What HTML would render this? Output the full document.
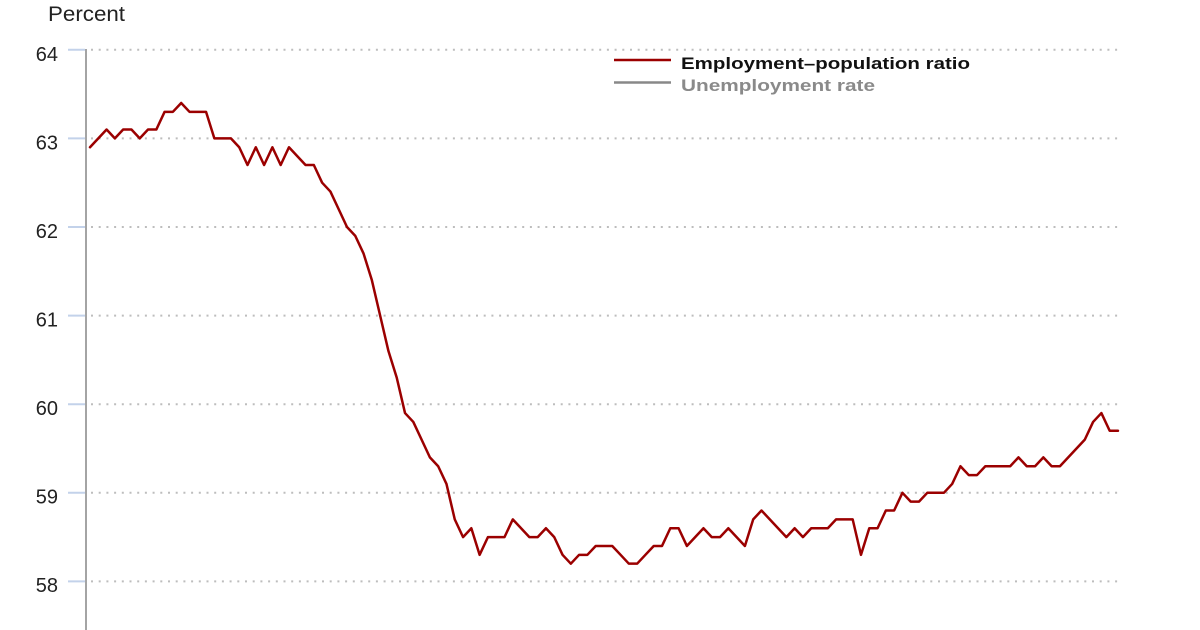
<!DOCTYPE html>
<html>
<head>
<meta charset="utf-8">
<style>
  html, body { margin: 0; padding: 0; background: #ffffff; }
  body { width: 1200px; height: 630px; overflow: hidden; }
  svg { display: block; }
  text { font-family: "Liberation Sans", sans-serif; }
</style>
</head>
<body>
<svg width="1200" height="630" viewBox="0 0 1200 630" xmlns="http://www.w3.org/2000/svg">
  <rect x="0" y="0" width="1200" height="630" fill="#ffffff"/>

  <!-- gridlines (dotted) -->
  <g stroke="#bdbdbd" stroke-width="2" stroke-dasharray="2 5.7" fill="none">
    <line x1="91" y1="49.8" x2="1120" y2="49.8"/>
    <line x1="91" y1="138.4" x2="1120" y2="138.4"/>
    <line x1="91" y1="227" x2="1120" y2="227"/>
    <line x1="91" y1="315.6" x2="1120" y2="315.6"/>
    <line x1="91" y1="404.2" x2="1120" y2="404.2"/>
    <line x1="91" y1="492.8" x2="1120" y2="492.8"/>
    <line x1="91" y1="581.4" x2="1120" y2="581.4"/>
  </g>

  <!-- y tick marks -->
  <g stroke="#c3d2ea" stroke-width="2">
    <line x1="68" y1="49.8" x2="85" y2="49.8"/>
    <line x1="68" y1="138.4" x2="85" y2="138.4"/>
    <line x1="68" y1="227" x2="85" y2="227"/>
    <line x1="68" y1="315.6" x2="85" y2="315.6"/>
    <line x1="68" y1="404.2" x2="85" y2="404.2"/>
    <line x1="68" y1="492.8" x2="85" y2="492.8"/>
    <line x1="68" y1="581.4" x2="85" y2="581.4"/>
  </g>

  <!-- y axis line -->
  <line x1="86" y1="49" x2="86" y2="630" stroke="#858585" stroke-width="1.5"/>

  <!-- y tick labels -->
  <g font-size="20" fill="#222222" text-anchor="end">
    <text x="58" y="61">64</text>
    <text x="58" y="149.5">63</text>
    <text x="58" y="238">62</text>
    <text x="58" y="326.5">61</text>
    <text x="58" y="415">60</text>
    <text x="58" y="503.5">59</text>
    <text x="58" y="592">58</text>
  </g>

  <!-- axis title -->
  <text x="48" y="21" font-size="21" fill="#222222" textLength="77" lengthAdjust="spacingAndGlyphs">Percent</text>

  <!-- legend -->
  <line x1="614" y1="60" x2="671" y2="60" stroke="#9b0000" stroke-width="2.6"/>
  <line x1="614" y1="82.5" x2="671" y2="82.5" stroke="#888888" stroke-width="2.6"/>
  <text x="681" y="69" font-size="17" font-weight="bold" fill="#111111" textLength="289" lengthAdjust="spacingAndGlyphs">Employment–population ratio</text>
  <text x="681" y="91" font-size="17" font-weight="bold" fill="#8a8a8a" textLength="194" lengthAdjust="spacingAndGlyphs">Unemployment rate</text>

  <!-- series -->
  <g transform="matrix(8.29 0 0 -88.6 90 5720.2)">
    <polyline fill="none" stroke="#9b0000" stroke-width="2.5" stroke-linejoin="round" stroke-linecap="round" vector-effect="non-scaling-stroke"
      points="0,62.9 1,63 2,63.1 3,63 4,63.1 5,63.1 6,63 7,63.1 8,63.1 9,63.3 10,63.3 11,63.4 12,63.3 13,63.3 14,63.3 15,63 16,63 17,63 18,62.9 19,62.7 20,62.9 21,62.7 22,62.9 23,62.7 24,62.9 25,62.8 26,62.7 27,62.7 28,62.5 29,62.4 30,62.2 31,62 32,61.9 33,61.7 34,61.4 35,61 36,60.6 37,60.3 38,59.9 39,59.8 40,59.6 41,59.4 42,59.3 43,59.1 44,58.7 45,58.5 46,58.6 47,58.3 48,58.5 49,58.5 50,58.5 51,58.7 52,58.6 53,58.5 54,58.5 55,58.6 56,58.5 57,58.3 58,58.2 59,58.3 60,58.3 61,58.4 62,58.4 63,58.4 64,58.3 65,58.2 66,58.2 67,58.3 68,58.4 69,58.4 70,58.6 71,58.6 72,58.4 73,58.5 74,58.6 75,58.5 76,58.5 77,58.6 78,58.5 79,58.4 80,58.7 81,58.8 82,58.7 83,58.6 84,58.5 85,58.6 86,58.5 87,58.6 88,58.6 89,58.6 90,58.7 91,58.7 92,58.7 93,58.3 94,58.6 95,58.6 96,58.8 97,58.8 98,59 99,58.9 100,58.9 101,59 102,59 103,59 104,59.1 105,59.3 106,59.2 107,59.2 108,59.3 109,59.3 110,59.3 111,59.3 112,59.4 113,59.3 114,59.3 115,59.4 116,59.3 117,59.3 118,59.4 119,59.5 120,59.6 121,59.8 122,59.9 123,59.7 124,59.7"/>
  </g>
</svg>
</body>
</html>
